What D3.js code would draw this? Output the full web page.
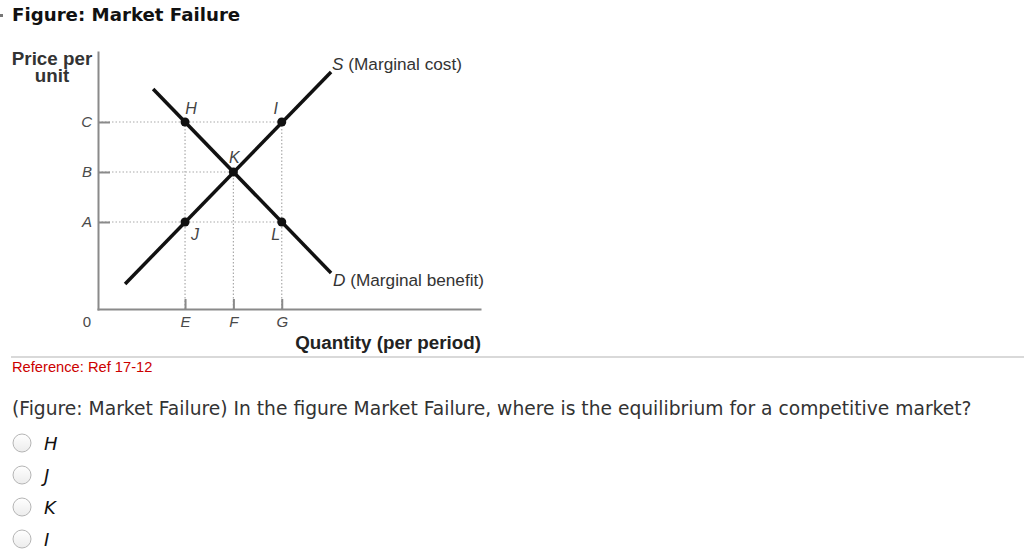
<!DOCTYPE html>
<html>
<head>
<meta charset="utf-8">
<script src="https://cdn.jsdelivr.net/npm/d3@7"></script>
<style>
  body { margin: 0; background: #fff; }
  svg { display: block; }
  .axis path, .axis line { stroke: #8a8a8a; stroke-width: 2; }
  .axis text { font-family: "Liberation Sans", Arial, sans-serif; font-size: 15px; font-style: italic; fill: #4a4a4a; }
</style>
</head>
<body>
<svg id="chart"></svg>
<script>
// ---- data (arbitrary units) ----
const quantityLabels = ["E", "F", "G"];
const quantityValues = [1.8, 2.8, 3.8];
const priceLabels = ["A", "B", "C"];
const priceValues = [1.74, 2.74, 3.74];

const supplyLine = [[0.56, 0.5], [4.82, 4.74]];
const demandLine = [[1.14, 4.4], [4.82, 0.72]];

const pointNames = ["H", "I", "K", "J", "L"];
const pointQ = [1.8, 3.8, 2.8, 1.8, 3.8];
const pointP = [3.74, 3.74, 2.74, 1.74, 1.74];

// dotted guides: horizontal (price -> up to quantity), vertical (quantity -> up to price)
const hGuideP = [3.74, 2.74, 1.74];
const hGuideQ = [3.8, 2.8, 3.8];
const vGuideQ = [1.8, 2.8, 3.8];
const vGuideP = [3.74, 2.74, 3.74];

const answerOptions = ["H", "J", "K", "I"];

const question = "(Figure: Market Failure) In the figure Market Failure, where is the equilibrium for a competitive market?";

// ---- setup ----
const W = 1024, H = 559;
const svg = d3.select("#chart").attr("width", W).attr("height", H);

const sans = '"Liberation Sans", Arial, sans-serif';
const verdana = '"DejaVu Sans", Verdana, sans-serif';

const x = d3.scaleLinear().domain([0, 7.9]).range([98, 480]);
const y = d3.scaleLinear().domain([0, 5.14]).range([309, 52]);

// header
svg.append("rect").attr("x", 0).attr("y", 14).attr("width", 3).attr("height", 3).attr("fill", "#777");
svg.append("text")
  .attr("x", 12).attr("y", 21)
  .style("font-family", verdana).style("font-weight", "bold").style("font-size", "18.2px")
  .attr("fill", "#111")
  .text("Figure: Market Failure");

const chart = svg.append("g").attr("class", "plot");

// dotted guides
chart.selectAll("line.hguide")
  .data(hGuideP)
  .enter().append("line")
    .attr("class", "hguide")
    .attr("x1", x(0)).attr("x2", (d, i) => x(hGuideQ[i]))
    .attr("y1", d => y(d)).attr("y2", d => y(d))
    .attr("stroke", "#aaa").attr("stroke-width", 1.2).attr("stroke-dasharray", "1.5,2");

chart.selectAll("line.vguide")
  .data(vGuideQ)
  .enter().append("line")
    .attr("class", "vguide")
    .attr("x1", d => x(d)).attr("x2", d => x(d))
    .attr("y1", y(0)).attr("y2", (d, i) => y(vGuideP[i]))
    .attr("stroke", "#aaa").attr("stroke-width", 1.2).attr("stroke-dasharray", "1.5,2");

// axes
const xAxis = d3.axisBottom(x)
  .tickValues(quantityValues)
  .tickFormat((d, i) => quantityLabels[i])
  .tickSizeInner(-10).tickSizeOuter(0).tickPadding(7);
const yAxis = d3.axisLeft(y)
  .tickValues(priceValues)
  .tickFormat((d, i) => priceLabels[i])
  .tickSizeInner(-12).tickSizeOuter(0).tickPadding(6);

chart.append("g").attr("class", "axis x")
  .attr("transform", "translate(0," + y(0) + ")")
  .call(xAxis);
chart.append("g").attr("class", "axis y")
  .attr("transform", "translate(" + x(0) + ",0)")
  .call(yAxis);

chart.selectAll(".axis .domain").attr("stroke-linecap", "square");

chart.append("text")
  .attr("x", x(0) - 11).attr("y", y(0) + 18)
  .attr("text-anchor", "middle")
  .style("font-family", sans).style("font-size", "15px").attr("fill", "#4a4a4a")
  .text("0");

// curves
const line = d3.line().x(d => x(d[0])).y(d => y(d[1]));
[supplyLine, demandLine].forEach(pts => {
  chart.append("path")
    .attr("d", line(pts))
    .attr("fill", "none")
    .attr("stroke", "#111").attr("stroke-width", 3.5);
});

// points
chart.selectAll("circle.pt")
  .data(pointNames)
  .enter().append("circle")
    .attr("class", "pt")
    .attr("cx", (d, i) => x(pointQ[i]))
    .attr("cy", (d, i) => y(pointP[i]))
    .attr("r", 4.5)
    .attr("fill", "#111");

// point labels, offset from each point
const labelOffset = { H: [6, -8], I: [-6, -8], K: [1, -9], J: [10, 18], L: [-6, 18] };
chart.selectAll("text.ptlabel")
  .data(pointNames)
  .enter().append("text")
    .attr("class", "ptlabel")
    .attr("x", (d, i) => x(pointQ[i]) + labelOffset[d][0])
    .attr("y", (d, i) => y(pointP[i]) + labelOffset[d][1])
    .attr("text-anchor", "middle")
    .style("font-family", sans).style("font-size", "16px").style("font-style", "italic")
    .attr("fill", "#444")
    .text(d => d);

// curve labels
function curveLabel(letter, rest, px, py) {
  const t = chart.append("text")
    .attr("x", px).attr("y", py)
    .style("font-family", sans).style("font-size", "17.2px").attr("fill", "#333");
  t.append("tspan").style("font-style", "italic").text(letter);
  t.append("tspan").text(" " + rest);
}
const sEnd = supplyLine[supplyLine.length - 1];
const dEnd = demandLine[demandLine.length - 1];
curveLabel("S", "(Marginal cost)", x(sEnd[0]) + 1, y(sEnd[1]) - 2);
curveLabel("D", "(Marginal benefit)", x(dEnd[0]) + 2, y(dEnd[1]) + 13);

// axis titles
const yTitle = chart.append("text")
  .attr("text-anchor", "middle")
  .style("font-family", sans).style("font-weight", "bold").style("font-size", "18.8px")
  .attr("fill", "#333");
yTitle.append("tspan").attr("x", 52).attr("y", 65).text("Price per");
yTitle.append("tspan").attr("x", 52).attr("y", 82).text("unit");

chart.append("text")
  .attr("x", x.range()[1] + 1).attr("y", 349)
  .attr("text-anchor", "end")
  .style("font-family", sans).style("font-weight", "bold").style("font-size", "18.8px")
  .attr("fill", "#222")
  .text("Quantity (per period)");

// separator + reference
svg.append("line")
  .attr("x1", 11).attr("x2", W).attr("y1", 357).attr("y2", 357)
  .attr("stroke", "#ccc").attr("stroke-width", 1.5);
svg.append("text")
  .attr("x", 12).attr("y", 372)
  .style("font-family", sans).style("font-size", "14.7px")
  .attr("fill", "#cc0000")
  .text("Reference: Ref 17-12");

// question + options
svg.append("text")
  .attr("x", 12).attr("y", 415)
  .style("font-family", verdana).style("font-size", "18.7px")
  .attr("fill", "#333")
  .text(question);

const grad = svg.append("defs").append("linearGradient")
  .attr("id", "radioFill").attr("x1", 0).attr("y1", 0).attr("x2", 0).attr("y2", 1);
grad.append("stop").attr("offset", "0%").attr("stop-color", "#fff");
grad.append("stop").attr("offset", "100%").attr("stop-color", "#ececec");

const optY = d3.scalePoint().domain(answerOptions).range([443, 539]);
const opts = svg.selectAll("g.opt")
  .data(answerOptions)
  .enter().append("g")
    .attr("class", "opt")
    .attr("transform", d => "translate(0," + optY(d) + ")");
opts.append("circle")
  .attr("cx", 22).attr("cy", 0).attr("r", 9)
  .attr("fill", "url(#radioFill)")
  .attr("stroke", "#b5b5b5").attr("stroke-width", 1);
opts.append("text")
  .attr("x", 44).attr("y", 6.5)
  .style("font-family", verdana).style("font-size", "18px").style("font-style", "italic")
  .attr("fill", "#111")
  .text(d => d);
</script>
</body>
</html>
